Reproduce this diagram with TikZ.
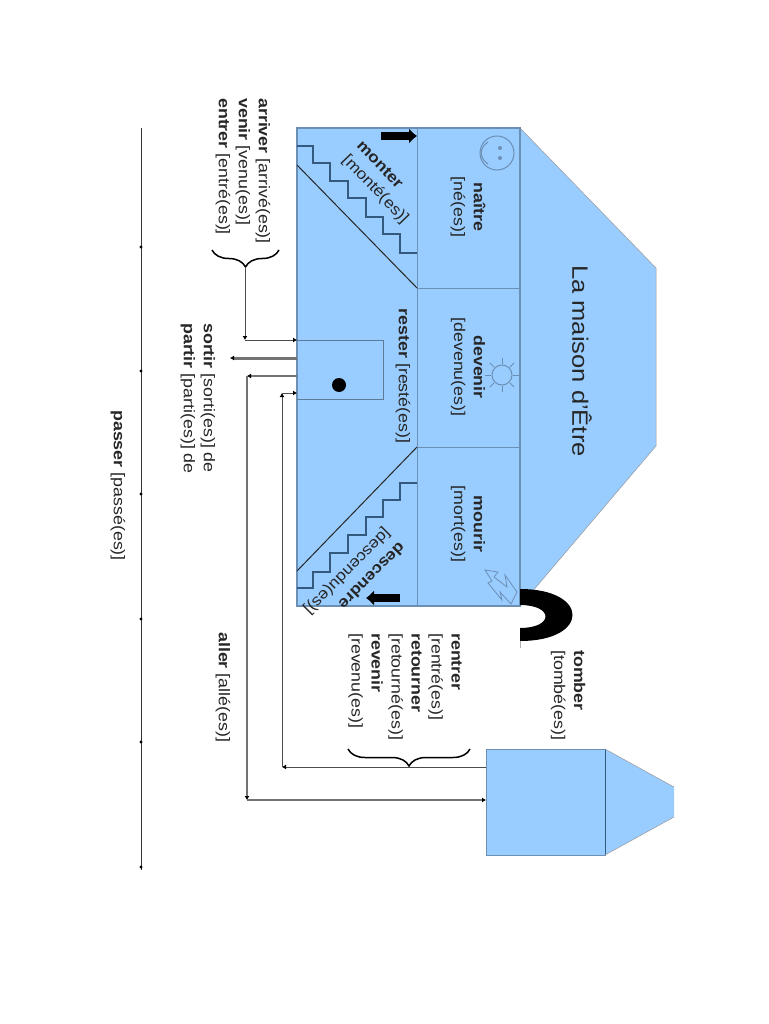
\documentclass[tikz,border=0pt]{standalone}
\usepackage{fontspec}
\setmainfont{Liberation Sans}
\usetikzlibrary{decorations.pathreplacing,arrows.meta}
\definecolor{houseblue}{HTML}{99CCFF}
\definecolor{wallline}{HTML}{6C8FB4}
\definecolor{stairline}{HTML}{34597F}
\definecolor{inktext}{HTML}{262626}
\tikzset{
  verbbase/.style={font=\fontsize{15.5}{20}\selectfont, text=inktext, align=left, inner sep=0pt},
  verb/.style={verbbase, rotate=-90, xscale=1.15},
  verbc/.style={verb, align=center},
  verbd/.style={verbbase, rotate=-46, xscale=1.12},
  verbu/.style={verbbase, rotate=-135, xscale=1.12},
  wall/.style={draw=wallline, line width=1pt},
  stair/.style={draw=stairline, line width=1.2pt},
  link/.style={draw=black!70, line width=1pt, -{Latex[black,length=4pt,width=5pt]}},
  linkthick/.style={link, draw=black!55, line width=1.6pt},
  bigarrow/.style={black, line width=8pt, -{Latex[length=8pt,width=16pt]}},
  bracey/.style={draw=black, line width=1.5pt, decorate, decoration={brace, amplitude=17pt, aspect=0.5}}
}
\begin{document}
\begin{tikzpicture}[x=1pt,y=-1pt]
\useasboundingbox (0,0) rectangle (768,1024);

%roof
\fill[houseblue] (520,128)--(656,268)--(656,446)--(520,606)--cycle;
\draw[black!40, line width=0.5pt] (520,128)--(656,268)--(656,446)--(520,606);

%body
\fill[houseblue] (297,128) rectangle (520,606);
\draw[wall, line width=1.4pt] (297,606)--(297,128)--(520,128)--(520,606)--cycle;
\draw[wall] (417,128)--(417,606);
\draw[wall] (417,288)--(520,288);
\draw[wall] (417,447)--(520,447);

%room
\draw[wall, draw=stairline!80] (297,340)--(383,340)--(383,399)--(297,399);
\fill[black] (339,385) circle (7pt);

%stairs
\draw[stair] (297,146)--(313,146)--(313,163)--(330,163)--(330,181)--(348,181)--(348,198)--(366,198)--(366,217)--(383,217)--(383,234)--(400,234)--(400,253)--(417,253);
\draw[stair] (417,483)--(400,483)--(400,500)--(383,500)--(383,517)--(366,517)--(366,535)--(348,535)--(348,553)--(330,553)--(330,572)--(313,572)--(313,588)--(297,588);
\draw[black!85, line width=1pt] (297,165)--(417,288);
\draw[black!85, line width=1pt] (417,447)--(297,571);

%block arrows
\draw[bigarrow] (381,136)--(417,136);
\draw[bigarrow] (400,598)--(366,598);

%smiley, sun, lightning
\draw[wall] (497,153) circle (17pt);
\fill[wallline] (500,148) circle (2pt) (500,158) circle (2pt);
\draw[wall] (488,142) .. controls (479,148) and (479,158) .. (488,164);
\draw[wall] (502,375) circle (10pt);
\foreach \a in {0,45,...,315}
  \draw[wall, line width=0.8pt, shift={(502,375)}] (\a:11pt)--(\a:17pt);
\draw[wall, line width=0.8pt] (485,570)--(498,572)--(494,577)--(507,587)--(505,575)--(517,592)--(511,604)--(500,592)--(502,600)--(488,583)--(492,581)--cycle;

%horseshoe
\draw[black!30, line width=1pt] (520,628)--(520,648);
\fill[black] (520,589) .. controls (590,589) and (590,641) .. (520,641) -- (520,628) .. controls (554,628) and (554,605) .. (520,605) -- cycle;

%annex
\fill[houseblue] (486,749) rectangle (605,855);
\fill[houseblue] (605,749)--(674,787)--(674,817)--(605,855)--cycle;
\draw[wall] (486,749) rectangle (605,855);
\draw[stairline, line width=0.8pt] (605,749)--(605,855);
\draw[black!40, line width=0.5pt] (605,749)--(674,787);
\draw[black!40, line width=0.5pt] (605,855)--(674,817);

%time line
\coordinate (lineTop) at (141,128);
\coordinate (lineEnd) at (141,870);
\draw[black!80, line width=0.8pt] (lineTop)--(lineEnd);
\foreach \t in {247,371,494,619,742,867}
  \fill[black] (141,\t) circle (1.6pt);

%links
\coordinate (roomIn) at (297,340);
\coordinate (roomOut) at (297,358);
\coordinate (roomAller) at (297,376);
\coordinate (roomBack) at (297,393);
\coordinate (annexOut) at (486,767);
\coordinate (annexIn) at (486,800);
\coordinate (outEnd) at (230,358);
\coordinate (braceTopA) at (279,250);
\coordinate (braceTopB) at (212,250);
\coordinate (braceTip) at (245,267);
\coordinate (cornerIn) at (245,340);
\coordinate (cornerAller) at (247,376);
\coordinate (cornerAnnex) at (247,800);
\coordinate (cornerOut) at (282,767);
\coordinate (cornerBack) at (282,393);
\coordinate (braceLowA) at (470,749);
\coordinate (braceLowB) at (348,749);
\draw[bracey] (braceTopA)--(braceTopB);
\draw[bracey] (braceLowA)--(braceLowB);
\draw[link] (braceTip)--(cornerIn);
\draw[link] (cornerIn)--(roomIn);
\draw[linkthick, line width=3pt] (roomOut)--(outEnd);
\draw[linkthick] (roomAller)--(cornerAller);
\draw[linkthick] (cornerAller)--(cornerAnnex);
\draw[linkthick] (cornerAnnex)--(annexIn);
\draw[link] (annexOut)--(cornerOut);
\draw[link] (cornerOut)--(cornerBack);
\draw[link] (cornerBack)--(roomBack);

%labels
\node[verb, font=\fontsize{22.2}{26}\selectfont] (title) at (582,361) {La maison d'Être};
\node[verbc] (naitre) at (468,207) {\textbf{naître}\\{[}né(es){]}};
\node[verbc] (devenir) at (468,367) {\textbf{devenir}\\{[}devenu(es){]}};
\node[verbc] (mourir) at (468,524) {\textbf{mourir}\\{[}mort(es){]}};
\node[verb] (rester) at (403,376) {\textbf{rester} {[}resté(es){]}};
\node[verbd] (monter) at (382,183) {\textbf{monter}\\{[}monté(es){]}};
\node[verbu] (descendre) at (354,578) {\textbf{descendre}\\{[}descendu(es){]}};
\node[verb, anchor=west] (arriver) at (243,98) {\textbf{arriver} {[}arrivé(es){]}\\\textbf{venir} {[}venu(es){]}\\\textbf{entrer} {[}entré(es){]}};
\node[verb, anchor=west] (sortir) at (198,323) {\textbf{sortir} {[}sorti(es){]} de\\\textbf{partir} {[}parti(es){]} de};
\node[verb, anchor=west] (passer) at (118,410) {\textbf{passer} {[}passé(es){]}};
\node[verb, anchor=west] (aller) at (223,632) {\textbf{aller} {[}allé(es){]}};
\node[verb, anchor=west] (rentrer) at (405,633) {\textbf{rentrer}\\{[}rentré(es){]}\\\textbf{retourner}\\{[}retourné(es){]}\\\textbf{revenir}\\{[}revenu(es){]}};
\node[verb, anchor=west] (tomber) at (568,650) {\textbf{tomber}\\{[}tombé(es){]}};
\end{tikzpicture}
\end{document}
